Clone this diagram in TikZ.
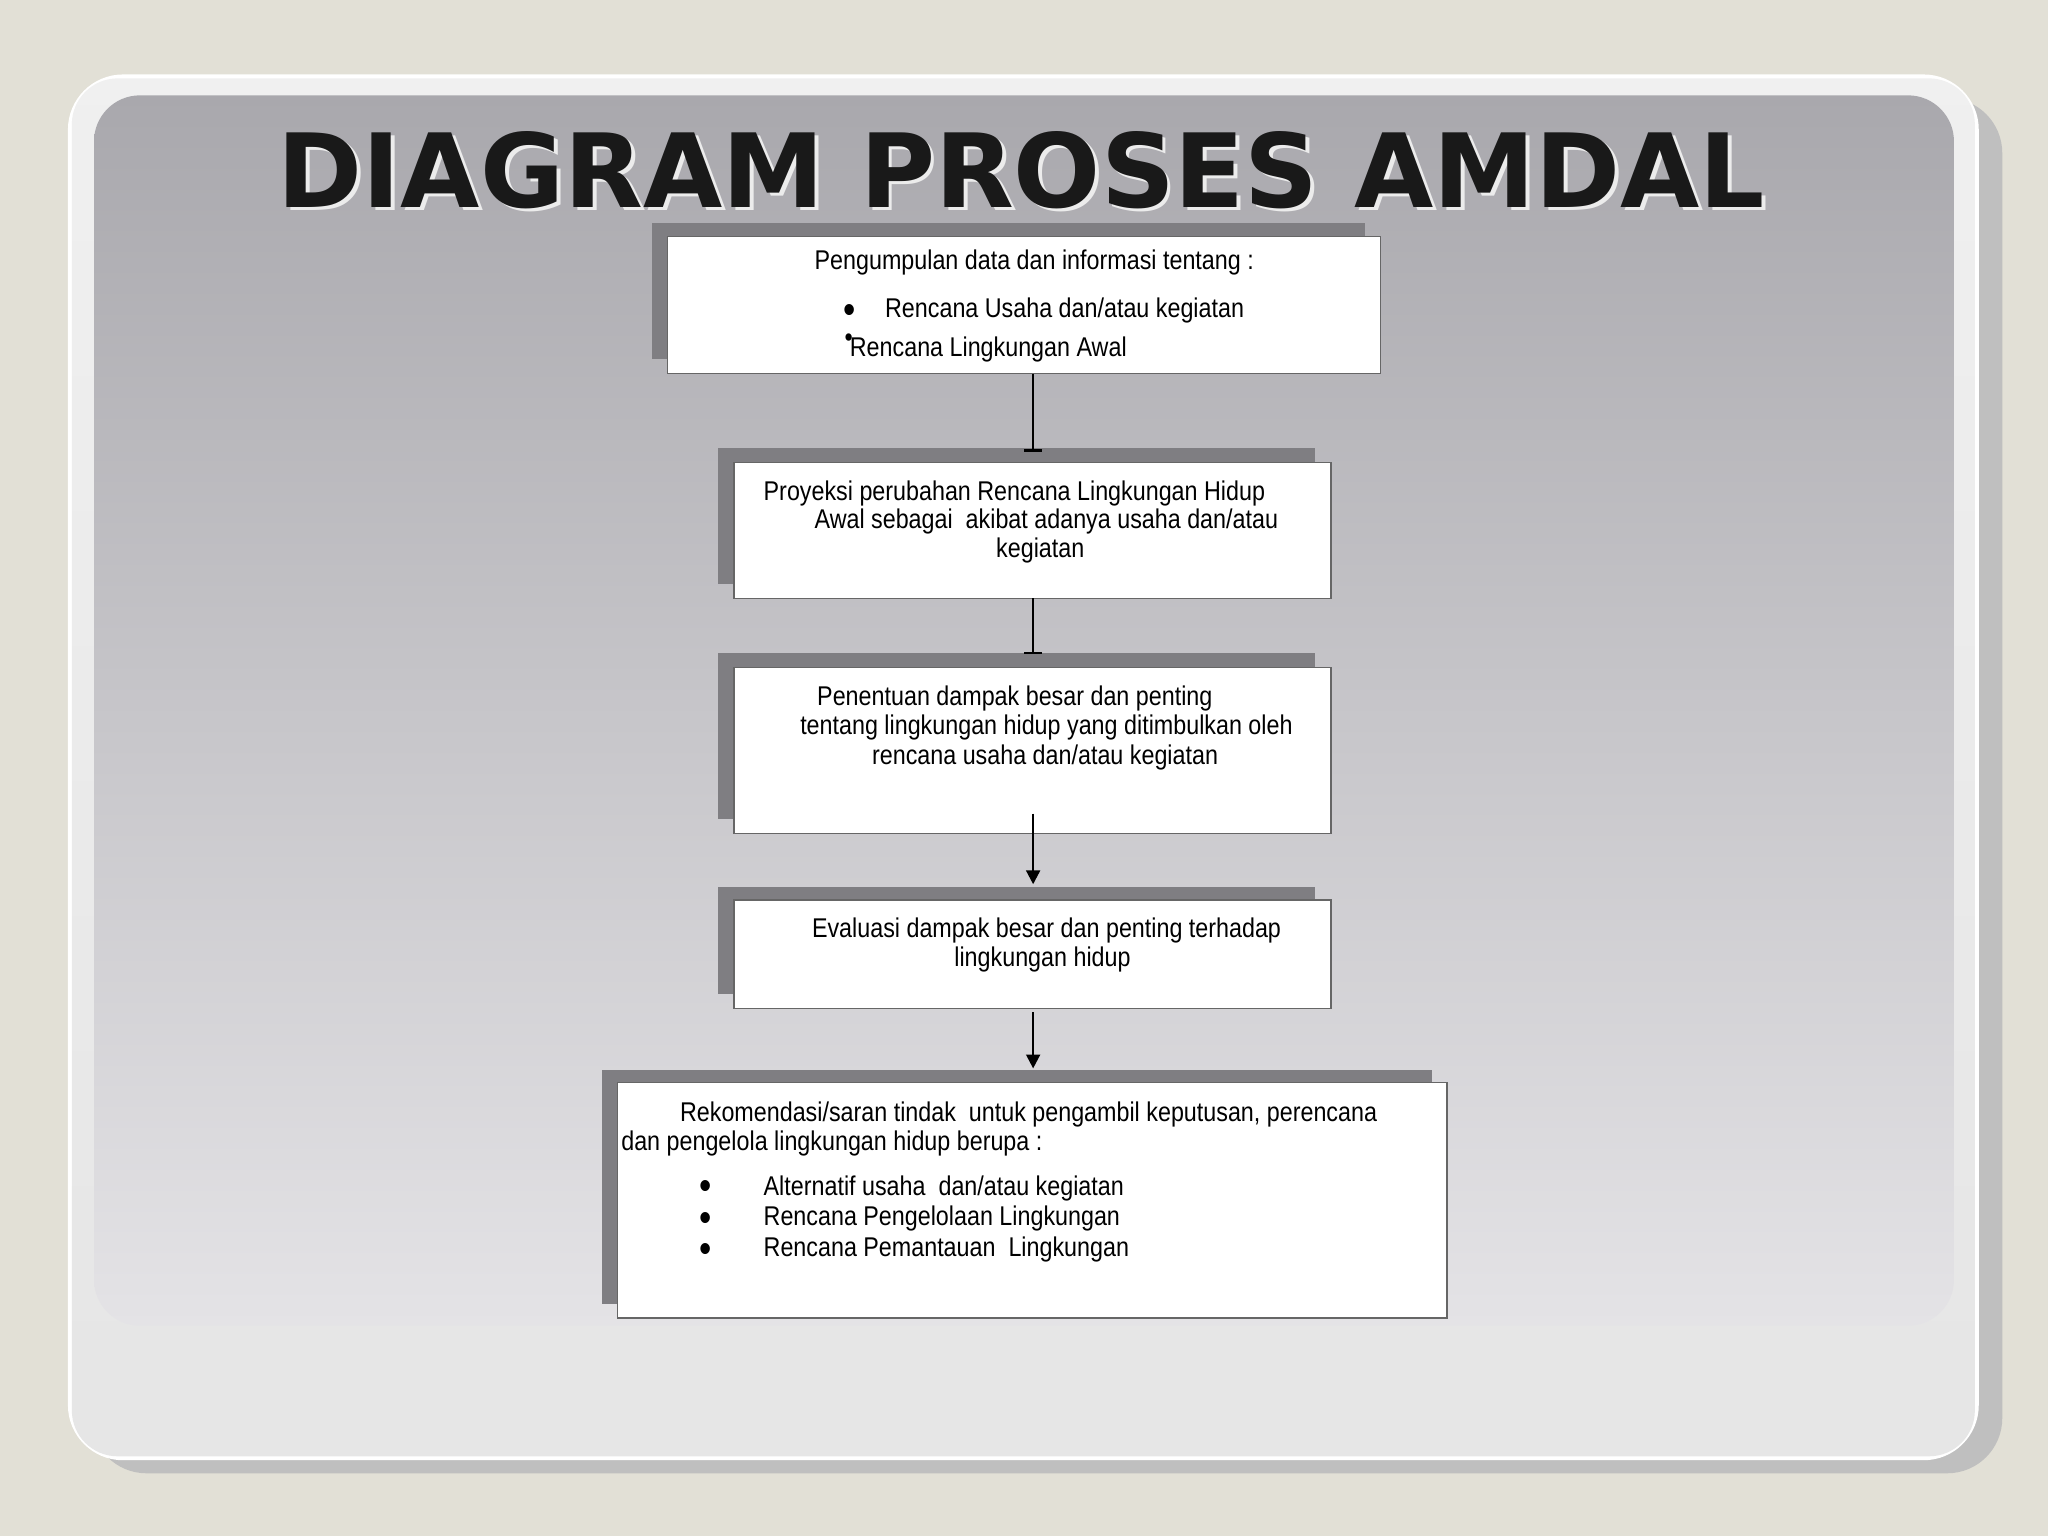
\documentclass[tikz,border=0pt]{standalone}
\usepackage{fontspec}
\setmainfont[FakeStretch=0.86]{Liberation Sans}
\newfontfamily\titlefont{DejaVu Sans}
\usetikzlibrary{arrows.meta}
\definecolor{bgc}{HTML}{E2E0D6}
\definecolor{shd}{HTML}{7F7E82}
\definecolor{ptop}{HTML}{A9A8AD}
\definecolor{pbot}{HTML}{E4E3E6}
\newcommand{\bigbul}{\raisebox{-1.3pt}{\scalebox{1.5}{\textbullet}}}
\tikzset{
 txt/.style={font=\fontsize{5.9pt}{6.4pt}\selectfont, inner sep=0pt, anchor=base west},
 wbox/.style={draw=black!60, line width=0.3pt, fill=white},
 sbox/.style={fill=shd},
 conn/.style={line width=0.5pt},
 arr/.style={conn, -{Triangle[length=3pt,width=3pt]}}
}
\begin{document}
\begin{tikzpicture}[x=0.01cm,y=-0.01cm]
\useasboundingbox (0,0) rectangle (1568,1176);
\fill[bgc] (0,0) rectangle (1568,1176);
\fill[black!25,rounded corners=12] (70,75) rectangle (1533,1128);
\fill[white,rounded corners=12] (52,57) rectangle (1515,1118);
\shade[top color=white!88!gray,bottom color=white!80!gray,rounded corners=10] (55,60) rectangle (1512,1115);
\shade[top color=ptop,bottom color=pbot,rounded corners=10] (72,73) rectangle (1496,1015);
% title
\node[font=\titlefont\bfseries\fontsize{22.3pt}{24pt}\selectfont, text=white!85!gray] at (785,133) {DIAGRAM PROSES AMDAL};
\node (title) [font=\titlefont\bfseries\fontsize{22.3pt}{24pt}\selectfont, text=black!90] at (782,130) {DIAGRAM PROSES AMDAL};
% boxes
\fill[sbox] (499,171) rectangle (1045,275);
\draw[wbox] (511,181) rectangle (1057,286);
\coordinate (b1) at (791,286);
\fill[sbox] (550,343) rectangle (1007,447);
\draw[wbox] (562,354) rectangle (1019,458);
\coordinate (b2t) at (791,345); \coordinate (b2) at (791,458);
\fill[sbox] (550,500) rectangle (1007,627);
\draw[wbox] (562,511) rectangle (1019,638);
\coordinate (b3t) at (791,500); \coordinate (b3) at (791,623);
\fill[sbox] (550,679) rectangle (1007,761);
\draw[wbox] (562,689) rectangle (1019,772);
\coordinate (b4t) at (791,677); \coordinate (b4) at (791,775);
\fill[sbox] (461,819) rectangle (1096,998);
\draw[wbox] (473,829) rectangle (1108,1009);
\coordinate (b5t) at (791,818);
% connectors
\draw[conn] (b1) -- (b2t); \draw[conn] (784,345) -- (798,345);
\draw[conn] (b2) -- (b3t); \draw[conn] (784,500) -- (798,500);
\draw[arr] (b3) -- (b4t);
\draw[arr] (b4) -- (b5t);
% texts
\node[txt] (t1) at (623,206) {Pengumpulan data dan informasi tentang :};
\node[txt] at (645,243) {\bigbul};
\node[txt] at (677,243) {Rencana Usaha dan/atau kegiatan};
\node[txt] at (646,265) {\textbullet};
\node[txt] at (650,273) {Rencana Lingkungan Awal};
\node[txt] at (584,383) {Proyeksi perubahan Rencana Lingkungan Hidup};
\node[txt] at (623,405) {Awal sebagai\ \ akibat adanya usaha dan/atau};
\node[txt] at (762,427) {kegiatan};
\node[txt] at (625,540) {Penentuan dampak besar dan penting};
\node[txt] at (612,562) {tentang lingkungan hidup yang ditimbulkan oleh};
\node[txt] at (667,585) {rencana usaha dan/atau kegiatan};
\node[txt] at (621,718) {Evaluasi dampak besar dan penting terhadap};
\node[txt] at (730,740) {lingkungan hidup};
\node[txt] at (520,859) {Rekomendasi/saran tindak\ \ untuk pengambil keputusan, perencana};
\node[txt] at (475,881) {dan pengelola lingkungan hidup berupa :};
\node[txt] at (535,914) {\bigbul}; \node[txt] at (584,915) {Alternatif usaha\ \ dan/atau kegiatan};
\node[txt] at (535,938) {\bigbul}; \node[txt] at (584,938) {Rencana Pengelolaan Lingkungan};
\node[txt] at (535,962) {\bigbul}; \node[txt] at (584,962) {Rencana Pemantauan\ \ Lingkungan};
\end{tikzpicture}
\end{document}
